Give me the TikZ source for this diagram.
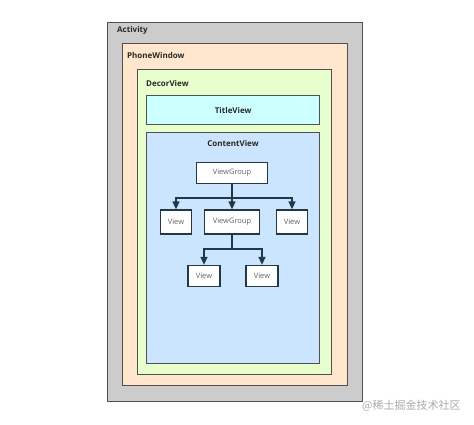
\documentclass[tikz,border=0pt]{standalone}
\usepackage{fontspec}
\setmainfont{Open Sans}
\newfontfamily\cjk{Noto Sans CJK SC}
\usetikzlibrary{arrows.meta,positioning}
\usepackage{xcolor}
\definecolor{activitygray}{RGB}{204,204,204}
\definecolor{windowpeach}{RGB}{255,230,204}
\definecolor{decorgreen}{RGB}{230,255,204}
\definecolor{titlecyan}{RGB}{204,255,255}
\definecolor{contentblue}{RGB}{204,229,255}
\definecolor{framegray}{RGB}{80,80,80}
\definecolor{linedark}{RGB}{35,55,70}
\definecolor{textdark}{RGB}{40,40,40}
\definecolor{textgray}{RGB}{100,100,100}
\definecolor{markgray}{RGB}{170,170,170}
\begin{document}
\begin{tikzpicture}[x=1pt,y=-1pt]
        \tikzstyle{layer}=[draw=framegray, line width=1.3pt, anchor=north west, inner sep=0pt]
        \tikzstyle{title}=[font=\fontsize{8}{9}\selectfont\bfseries, text=textdark, inner sep=0pt]
        \tikzstyle{view}=[draw=linedark, line width=1.3pt, fill=white, inner sep=0pt, font=\fontsize{7.5}{8}\selectfont, text=textgray]
        \tikzstyle{tree}=[draw=linedark, line width=1.3pt, -{Triangle[width=7pt,length=8pt]}]
        \useasboundingbox (0,0) rectangle (474,424);
        % Nested windows
        \node[layer, fill=activitygray, minimum width=255pt, minimum height=379pt] (activity) at (107,22) {};
        \node[layer, fill=windowpeach, minimum width=225pt, minimum height=342pt] (phonewindow) at (122,43) {};
        \node[layer, fill=decorgreen, minimum width=194pt, minimum height=305pt] (decorview) at (137,69) {};
        \node[layer, fill=titlecyan, minimum width=173pt, minimum height=29pt, title, anchor=north west] (titleview) at (146,95) {TitleView};
        \node[layer, fill=contentblue, minimum width=173pt, minimum height=231pt] (contentview) at (146,132) {};
        % Window titles
        \node[title, anchor=west] (activitytitle) at (117,30) {Activity};
        \node[title, anchor=west] (phonetitle) at (127,55) {PhoneWindow};
        \node[title, anchor=west] (decortitle) at (146,83) {DecorView};
        \node[title] (contenttitle) at (233,143) {ContentView};
        % View tree
        \node[view, minimum width=71pt, minimum height=21pt] (vgtop) at (232,173) {ViewGroup};
        \node[view, minimum width=31pt, minimum height=24pt] (viewleft) at (176,222) {View};
        \node[view, minimum width=55pt, minimum height=24pt] (vgmid) at (232,222) {ViewGroup};
        \node[view, minimum width=31pt, minimum height=24pt] (viewright) at (292,222) {View};
        \node[view, minimum width=32pt, minimum height=21pt] (viewa) at (204,276) {View};
        \node[view, minimum width=32pt, minimum height=21pt] (viewb) at (262,276) {View};
        % Branch points
        \coordinate (split1) at (232,198);
        \coordinate (split2) at (232,249);
        \draw[draw=linedark, line width=1.3pt] (vgtop) -- (split1);
        \draw[tree] (split1) -| (viewleft);
        \draw[tree] (split1) -| (viewright);
        \draw[tree] (split1) -- (vgmid);
        \draw[draw=linedark, line width=1.3pt] (vgmid) -- (split2);
        \draw[tree] (split2) -| (viewa);
        \draw[tree] (split2) -| (viewb);
        % Watermark
        \node[font=\cjk\fontsize{11}{13}\selectfont, text=markgray, anchor=west, inner sep=0pt] (mark) at (362,406) {@稀土掘金技术社区};
\end{tikzpicture}
\end{document}
